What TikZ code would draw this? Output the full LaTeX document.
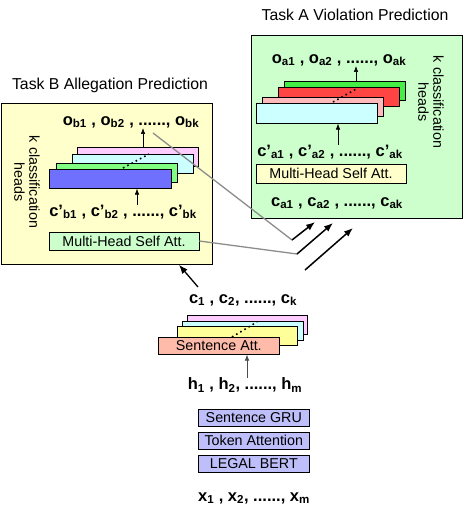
\documentclass[tikz,border=0pt]{standalone}
\usepackage{fontspec}
\setmainfont{Liberation Sans}
\usepackage{xcolor}
\usetikzlibrary{arrows.meta,positioning}

\definecolor{taskAfill}{RGB}{204,255,204}
\definecolor{taskBfill}{RGB}{255,255,204}
\definecolor{headgreen}{RGB}{68,238,68}
\definecolor{headred}{RGB}{255,68,68}
\definecolor{headrose}{RGB}{255,187,187}
\definecolor{headcyan}{RGB}{204,255,255}
\definecolor{headpink}{RGB}{255,204,255}
\definecolor{headlime}{RGB}{128,255,128}
\definecolor{headblue}{RGB}{112,112,255}
\definecolor{sentsalmon}{RGB}{255,187,170}
\definecolor{sentyellow}{RGB}{255,255,153}
\definecolor{layerlav}{RGB}{190,190,250}

\begin{document}
\begin{tikzpicture}[
  x=1pt, y=-1pt,
  every node/.style={font=\fontsize{14.3}{15}\selectfont, inner sep=0pt},
  taskbox/.style={draw, thick, anchor=north west},
  headbox/.style={draw, semithick, anchor=north west, minimum width=121pt, minimum height=19pt},
  layerbox/.style={draw, semithick, anchor=north west, fill=layerlav, minimum width=111pt, minimum height=17pt},
  seqlabel/.style={font=\fontsize{16.5}{18}\selectfont\bfseries},
  title/.style={font=\fontsize{15.8}{18}\selectfont},
  headdots/.style={line width=1.6pt, dash pattern=on 1.6pt off 3.2pt},
  arrow/.style={-{Latex[length=9pt,width=7pt]}, line width=1.5pt},
  smallarrow/.style={-{Latex[length=6pt,width=4.5pt]}, semithick},
  feedline/.style={line width=1.3pt, draw=black!45}
]
  \useasboundingbox (0,0) rectangle (463,515);

  % Task A box (right)
  \node[title] (titleA) at (355,15) {Task A Violation Prediction};
  \node[taskbox, fill=taskAfill, minimum width=211pt, minimum height=183pt] (boxA) at (250.5,35) {};
  \node[seqlabel] (oA) at (339,60) {o\textsubscript{a1} , o\textsubscript{a2} , ......, o\textsubscript{ak}};
  \node[headbox, fill=headgreen] (greenA) at (284,81) {};
  \node[headbox, fill=headred] (redA) at (278,87) {};
  \node[headbox, fill=headrose] (roseA) at (262,97) {};
  \node[headbox, fill=headcyan, minimum height=20pt] (cyanA) at (256,103) {};
  \draw[headdots] (333,102) -- (358,88);
  \node[seqlabel] (cpA) at (330,152) {c’\textsubscript{a1} , c’\textsubscript{a2} , ......, c’\textsubscript{ak}};
  \node[draw, semithick, fill=taskBfill, minimum width=150pt, minimum height=19pt] (mhsaA) at (331,173.5) {Multi-Head Self Att.};
  \node[seqlabel] (cA) at (337,203) {c\textsubscript{a1} , c\textsubscript{a2} , ......, c\textsubscript{ak}};
  \node[rotate=-90, align=center] (headsA) at (431,102) {k classification\\heads};
  \coordinate (xoA) at (356,0);
  \coordinate (xcA) at (338,0);
  \draw[smallarrow] (greenA.north -| xoA) -- (oA.south -| xoA);
  \draw[smallarrow] (cpA.north -| xcA) -- (cyanA.south -| xcA);

  % Task B box (left)
  \node[title] (titleB) at (110,85) {Task B Allegation Prediction};
  \node[taskbox, fill=taskBfill, minimum width=211pt, minimum height=161pt] (boxB) at (0.7,103) {};
  \node[seqlabel] (oB) at (131,122) {o\textsubscript{b1} , o\textsubscript{b2} , ......, o\textsubscript{bk}};
  \node[headbox, fill=headpink] (pinkB) at (77,147) {};
  \node[headbox, fill=headcyan] (cyanB) at (72,154) {};
  \node[headbox, fill=headlime] (limeB) at (56,163) {};
  \node[headbox, fill=headblue, minimum width=122pt] (blueB) at (49,169) {};
  \draw[headdots] (123,168) -- (149,154);
  \node[seqlabel] (cpB) at (123,212) {c’\textsubscript{b1} , c’\textsubscript{b2} , ......, c’\textsubscript{bk}};
  \node[draw, semithick, fill=taskAfill, minimum width=150pt, minimum height=18pt] (mhsaB) at (124,241) {Multi-Head Self Att.};
  \node[rotate=-90, align=center] (headsB) at (27,182) {k classification\\heads};
  \coordinate (xoB) at (143,0);
  \coordinate (xcB) at (137,0);
  \draw[smallarrow] (pinkB.north -| xoB) -- (oB.south -| xoB);
  \draw[smallarrow] (cpB.north -| xcB) -- (blueB.south -| xcB);

  % Shared encoder (bottom)
  \node[seqlabel] (cseq) at (243,300) {c\textsubscript{1} , c\textsubscript{2}, ......, c\textsubscript{k}};
  \node[headbox, fill=headpink, minimum width=120pt] (pinkS) at (187,315) {};
  \node[headbox, fill=headcyan] (cyanS) at (182,321) {};
  \node[headbox, fill=sentyellow, minimum width=120pt] (yellowS) at (177,326) {};
  \node[headbox, fill=sentsalmon, minimum height=17pt] (satt) at (158,337) {Sentence Att.};
  \draw[headdots] (232,337) -- (257,322);
  \node[seqlabel] (hseq) at (245,385) {h\textsubscript{1} , h\textsubscript{2}, ......, h\textsubscript{m}};
  \node[layerbox] (gru) at (198,409) {Sentence GRU};
  \node[layerbox] (tokatt) at (198,432) {Token Attention};
  \node[layerbox] (bert) at (198,455) {LEGAL BERT};
  \node[seqlabel] (xseq) at (254,498) {x\textsubscript{1} , x\textsubscript{2}, ......, x\textsubscript{m}};

  \coordinate (xh) at (247,0);
  \draw[smallarrow, draw=black!70] (hseq.north -| xh) -- (satt.south -| xh);
  \coordinate (cstart) at (198,287);
  \coordinate (xB) at (179,0);
  \draw[arrow, line width=1.3pt] (cstart) -- (boxB.south -| xB);

  % Task B outputs fed towards Task A
  \coordinate (obfoot) at (153,133);
  \coordinate (j1) at (292,240);
  \coordinate (t1) at (315,222);
  \coordinate (j2) at (297,254);
  \coordinate (t2) at (333,223);
  \coordinate (j3) at (305,270);
  \coordinate (t3) at (353,228);
  \draw[feedline] (obfoot) -- (j1);
  \draw[feedline] (mhsaB.east) -- (j2);
  \draw[arrow] (j1) -- (t1);
  \draw[arrow] (j2) -- (t2);
  \draw[arrow] (j3) -- (t3);
\end{tikzpicture}
\end{document}
